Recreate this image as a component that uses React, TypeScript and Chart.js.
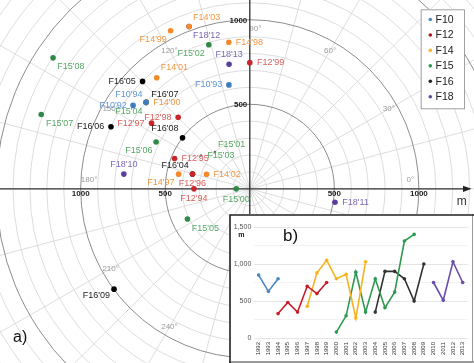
import React, { useEffect, useRef } from "react";
import Chart from "chart.js/auto";

// ---------- DATA ----------
const YEARS = [
  "1992", "1993", "1994", "1995", "1996", "1997", "1998", "1999", "2000", "2001", "2002",
  "2003", "2004", "2005", "2006", "2007", "2008", "2009", "2010", "2011", "2012", "2013",
];

const GLACIERS = ["F10", "F12", "F14", "F15", "F16", "F18"];

const F10_YEARS = [1992, 1993, 1994];
const F10_DISTANCE = [850, 630, 800];
const F10_AZIMUTH = [144.3, 101.3, 140];

const F12_YEARS = [1994, 1995, 1996, 1997, 1998, 1999];
const F12_DISTANCE = [330, 480, 350, 700, 600, 750];
const F12_AZIMUTH = [180, 157.9, 165.5, 146.1, 134.9, 90];

const F14_YEARS = [1997, 1998, 1999, 2000, 2001, 2002, 2003];
const F14_DISTANCE = [430, 880, 1050, 800, 860, 270, 1030];
const F14_AZIMUTH = [168.3, 98.1, 116.5, 140, 129.8, 161.3, 110.4];

const F15_YEARS = [2000, 2001, 2002, 2003, 2004, 2005, 2006, 2007, 2008];
const F15_DISTANCE = [80, 300, 890, 350, 800, 410, 620, 1310, 1400];
const F15_AZIMUTH = [180, 133.3, 105.8, 145.6, 140, 206, 153.3, 160.3, 146.2];

const F16_YEARS = [2004, 2005, 2006, 2007, 2008, 2009];
const F16_DISTANCE = [350, 900, 900, 800, 500, 1000];
const F16_AZIMUTH = [165.5, 134.8, 155.8, 140, 142.7, 216.6];

const F18_YEARS = [2010, 2011, 2012, 2013];
const F18_DISTANCE = [750, 510, 1030, 750];
const F18_AZIMUTH = [173.3, 351, 110.4, 99.4];

const RING_STEP = 100;
const RING_MAX = 2000;
const MAJOR_RING_STEP = 500;
const SPOKE_STEP = 15;
const ANGLE_LABELS = [0, 30, 60, 90, 120, 150, 180, 210, 240, 270, 300, 330];
const ANGLE_LABEL_RADIUS = 950;
const X_AXIS_TICKS = [-1000, -500, 500, 1000];
const Y_AXIS_TICKS = [500, 1000];

// ---------- STYLES ----------
const DOT_COLORS: Record<string, string> = {
  F10: "#3d7cc0", F12: "#c9262c", F14: "#f58a2c", F15: "#2f8a47", F16: "#000000", F18: "#5b3f9e",
};
const LABEL_COLORS: Record<string, string> = {
  F10: "#5f95d3", F12: "#d9605f", F14: "#f29540", F15: "#56a866", F16: "#222222", F18: "#7b68b9",
};
const LEGEND_COLORS: Record<string, string> = {
  F10: "#4a8bc6", F12: "#a8191f", F14: "#f7b731", F15: "#2b9a4d", F16: "#222222", F18: "#5c4a9c",
};
const LINE_COLORS: Record<string, string> = {
  F10: "#4a86c2", F12: "#c8202a", F14: "#f6b41e", F15: "#2e9a50", F16: "#333333", F18: "#6a4cae",
};
const SMALL_POINTS = ["F15'01", "F15'03"];
// label placement: [align, dx, dy]
const LABEL_PLACE: Record<string, [string, number, number]> = {
  "F15'08": ["l", 4.3, 8.3], "F15'07": ["l", 4.7, 8.7], "F16'06": ["r", -6.7, 0],
  "F18'10": ["c", 0, -10], "F16'09": ["r", -4, 6], "F16'05": ["r", -6.7, 0],
  "F10'94": ["r", -3.6, -8.3], "F10'92": ["r", -6.3, 0], "F16'07": ["l", 5, -8.3],
  "F14'00": ["l", 7, 0.4], "F15'04": ["r", -3.6, 9.4], "F14'01": ["l", 4, -9.7],
  "F12'97": ["r", -7, 0], "F12'98": ["r", -6.7, 0], "F16'08": ["r", -4, -9],
  "F15'06": ["r", -3.7, 8.7], "F12'95": ["l", 7, 0], "F16'04": ["r", -3.7, -9],
  "F14'97": ["r", -4, 8.7], "F12'96": ["c", 0, 9.5], "F12'94": ["c", 0, 9.7],
  "F14'02": ["l", 7, 0], "F15'00": ["c", 0, 10.3], "F15'05": ["l", 4.3, 9],
  "F15'01": ["l", 3, -8], "F15'03": ["l", 6.4, 0], "F14'99": ["r", -3.7, 8.7],
  "F14'03": ["l", 4, -9], "F18'12": ["l", 4, 9], "F15'02": ["r", -4, 9],
  "F14'98": ["l", 7, 0], "F18'13": ["c", 0, -10], "F12'99": ["l", 7.3, 0],
  "F10'93": ["r", -6.7, 0], "F18'11": ["l", 7.3, 0],
};
const FONT = "'Liberation Sans', Arial, sans-serif";
const W = 474;
const H = 363;
// view window in metres (keeps 1 m = 0.172 px on both axes)
const X_MIN = -1453.5, X_MAX = 1302.3, Y_MIN = -1011.6, Y_MAX = 1098.8;

const SERIES: Record<string, { years: number[]; dist: number[]; az: number[] }> = {
  F10: { years: F10_YEARS, dist: F10_DISTANCE, az: F10_AZIMUTH },
  F12: { years: F12_YEARS, dist: F12_DISTANCE, az: F12_AZIMUTH },
  F14: { years: F14_YEARS, dist: F14_DISTANCE, az: F14_AZIMUTH },
  F15: { years: F15_YEARS, dist: F15_DISTANCE, az: F15_AZIMUTH },
  F16: { years: F16_YEARS, dist: F16_DISTANCE, az: F16_AZIMUTH },
  F18: { years: F18_YEARS, dist: F18_DISTANCE, az: F18_AZIMUTH },
};

const rad = (d: number) => (d * Math.PI) / 180;

const polarPlugin = {
  id: "polarDecor",
  beforeDatasetsDraw(chart: any) {
    const { ctx } = chart;
    const xs = chart.scales.x, ys = chart.scales.y;
    const P = (m: number, deg: number) => [
      xs.getPixelForValue(m * Math.cos(rad(deg))),
      ys.getPixelForValue(m * Math.sin(rad(deg))),
    ];
    const cx = xs.getPixelForValue(0), cy = ys.getPixelForValue(0);
    const k = (xs.getPixelForValue(1000) - cx) / 1000;
    ctx.save();
    // minor rings
    ctx.strokeStyle = "#d4d4d4";
    ctx.lineWidth = 0.8;
    for (let r = RING_STEP; r <= RING_MAX; r += RING_STEP) {
      if (r % MAJOR_RING_STEP === 0) continue;
      ctx.beginPath();
      ctx.arc(cx, cy, r * k, 0, Math.PI * 2);
      ctx.stroke();
    }
    // spokes
    for (let a = 0; a < 360; a += SPOKE_STEP) {
      const [px, py] = P(RING_MAX, a);
      ctx.beginPath();
      ctx.moveTo(cx, cy);
      ctx.lineTo(px, py);
      ctx.stroke();
    }
    // major rings
    ctx.strokeStyle = "#8c8c8c";
    ctx.lineWidth = 1;
    for (let r = MAJOR_RING_STEP; r <= RING_MAX; r += MAJOR_RING_STEP) {
      ctx.beginPath();
      ctx.arc(cx, cy, r * k, 0, Math.PI * 2);
      ctx.stroke();
    }
    // angle labels
    ctx.fillStyle = "#9a9a9a";
    ctx.font = `8px ${FONT}`;
    ctx.textAlign = "center";
    ctx.textBaseline = "middle";
    for (const a of ANGLE_LABELS) {
      let [px, py] = P(ANGLE_LABEL_RADIUS, a);
      if (a % 180 === 0) py -= 9;
      if (a % 180 === 90) px += 5.5;
      ctx.fillText(`${a}°`, px, py);
    }
    // axes
    ctx.strokeStyle = "#333";
    ctx.lineWidth = 1.3;
    ctx.beginPath();
    ctx.moveTo(0, cy);
    ctx.lineTo(W - 8, cy);
    ctx.stroke();
    ctx.beginPath();
    ctx.moveTo(cx, 0);
    ctx.lineTo(cx, H);
    ctx.stroke();
    ctx.fillStyle = "#222";
    ctx.beginPath();
    ctx.moveTo(W - 2.5, cy);
    ctx.lineTo(W - 11, cy - 3.2);
    ctx.lineTo(W - 11, cy + 3.2);
    ctx.closePath();
    ctx.fill();
    // axis tick labels
    ctx.fillStyle = "#222";
    ctx.font = `bold 8px ${FONT}`;
    ctx.textAlign = "center";
    for (const v of X_AXIS_TICKS) {
      ctx.fillText(String(Math.abs(v)), xs.getPixelForValue(v), cy + 4.5);
    }
    ctx.textAlign = "right";
    for (const v of Y_AXIS_TICKS) {
      ctx.fillText(String(v), cx - 2.5, ys.getPixelForValue(v));
    }
    ctx.font = `12px ${FONT}`;
    ctx.fillStyle = "#333";
    ctx.textAlign = "center";
    ctx.fillText("m", 461.7, 201.7);
    ctx.font = `16px ${FONT}`;
    ctx.fillStyle = "#111";
    ctx.textAlign = "left";
    ctx.fillText("a)", 13, 338);
    ctx.restore();
  },
  afterDatasetsDraw(chart: any) {
    const { ctx } = chart;
    ctx.save();
    ctx.font = `9px ${FONT}`;
    ctx.textBaseline = "middle";
    chart.data.datasets.forEach((ds: any, i: number) => {
      const meta = chart.getDatasetMeta(i);
      meta.data.forEach((el: any, j: number) => {
        const name = ds.data[j].name;
        const place = LABEL_PLACE[name] || ["l", 5, 0];
        ctx.fillStyle = LABEL_COLORS[ds.label];
        ctx.textAlign = place[0] === "l" ? "left" : place[0] === "r" ? "right" : "center";
        ctx.fillText(name, el.x + place[1], el.y + place[2]);
      });
    });
    // legend
    const lx = 420.7, ly = 9.3, lw = 43.3, lh = 99;
    ctx.fillStyle = "#fff";
    ctx.fillRect(lx, ly, lw, lh);
    ctx.strokeStyle = "#a0a0a0";
    ctx.lineWidth = 1;
    ctx.strokeRect(lx + 0.5, ly + 0.5, lw, lh);
    ctx.font = `10.5px ${FONT}`;
    ctx.textAlign = "left";
    GLACIERS.forEach((g, i) => {
      const y = 19.5 + i * 15.45;
      ctx.fillStyle = LEGEND_COLORS[g];
      ctx.beginPath();
      ctx.arc(430.3, y, 1.8, 0, Math.PI * 2);
      ctx.fill();
      ctx.fillStyle = "#222";
      ctx.fillText(g, 435.5, y + 0.5);
    });
    ctx.restore();
  },
};

const insetPlugin = {
  id: "insetDecor",
  beforeDraw(chart: any) {
    const { ctx } = chart;
    ctx.save();
    ctx.fillStyle = "#fff";
    ctx.fillRect(0, 0, chart.width, chart.height);
    ctx.restore();
  },
  afterDraw(chart: any) {
    const { ctx } = chart;
    ctx.save();
    ctx.fillStyle = "#111";
    ctx.font = `bold 7px ${FONT}`;
    ctx.textAlign = "center";
    ctx.textBaseline = "middle";
    ctx.fillText("m", 12.3, 21.3);
    ctx.font = `17px ${FONT}`;
    ctx.textAlign = "left";
    ctx.fillText("b)", 54, 22);
    // frame
    ctx.strokeStyle = "#999";
    ctx.lineWidth = 2;
    ctx.beginPath();
    ctx.moveTo(0, chart.height - 1);
    ctx.lineTo(chart.width, chart.height - 1);
    ctx.stroke();
    ctx.lineWidth = 1;
    ctx.beginPath();
    ctx.moveTo(chart.width - 1.5, 0);
    ctx.lineTo(chart.width - 1.5, chart.height);
    ctx.stroke();
    ctx.strokeStyle = "#222";
    ctx.lineWidth = 1.6;
    ctx.beginPath();
    ctx.moveTo(1, chart.height);
    ctx.lineTo(1, 1);
    ctx.lineTo(chart.width, 1);
    ctx.stroke();
    ctx.restore();
  },
};

export default function App() {
  const mainRef = useRef<HTMLCanvasElement | null>(null);
  const insetRef = useRef<HTMLCanvasElement | null>(null);

  useEffect(() => {
    const scatterSets = GLACIERS.map((g) => {
      const s = SERIES[g];
      const data = s.years.map((yr, i) => ({
        x: s.dist[i] * Math.cos(rad(s.az[i])),
        y: s.dist[i] * Math.sin(rad(s.az[i])),
        name: `${g}'${String(yr).slice(2)}`,
      }));
      return {
        label: g,
        data,
        pointRadius: data.map((d) => (SMALL_POINTS.includes(d.name) ? 1.3 : 2.8)),
        pointBackgroundColor: data.map((d) => (SMALL_POINTS.includes(d.name) ? "#666" : DOT_COLORS[g])),
        pointBorderWidth: 0,
        clip: false as any,
      };
    });

    const main = new Chart(mainRef.current!, {
      type: "scatter",
      data: { datasets: scatterSets as any },
      options: {
        animation: false,
        responsive: false,
        devicePixelRatio: 1,
        layout: { padding: 0 },
        plugins: { legend: { display: false }, tooltip: { enabled: false } },
        scales: {
          x: { type: "linear", display: false, min: X_MIN, max: X_MAX },
          y: { type: "linear", display: false, min: Y_MIN, max: Y_MAX },
        },
      },
      plugins: [polarPlugin as any],
    });

    const lineSets = GLACIERS.map((g) => {
      const s = SERIES[g];
      const data = YEARS.map((yr) => {
        const idx = s.years.indexOf(Number(yr));
        return idx >= 0 ? s.dist[idx] : null;
      });
      return {
        label: g,
        data,
        borderColor: LINE_COLORS[g],
        backgroundColor: LINE_COLORS[g],
        borderWidth: 1.6,
        pointRadius: 1.8,
        pointBorderWidth: 0,
        spanGaps: false,
        tension: 0,
      };
    });

    const inset = new Chart(insetRef.current!, {
      type: "line",
      data: { labels: YEARS, datasets: lineSets as any },
      options: {
        animation: false,
        responsive: false,
        devicePixelRatio: 1,
        layout: { padding: { top: 13, right: 4.4, left: 0, bottom: 0 } },
        plugins: { legend: { display: false }, tooltip: { enabled: false } },
        scales: {
          x: {
            offset: true,
            grid: { display: false, drawTicks: false },
            border: { display: false },
            ticks: {
              minRotation: 90,
              maxRotation: 90,
              autoSkip: false,
              padding: 4,
              color: "#333",
              font: { size: 6, family: FONT },
            },
            afterFit: (s: any) => {
              s.height = 25;
            },
          },
          y: {
            min: 0,
            max: 1500,
            grid: {
              drawTicks: false,
              color: (c: any) => (c.tick && c.tick.value % 500 === 0 ? "#dedede" : "#efefef"),
              lineWidth: 0.8,
            },
            border: { display: false },
            ticks: {
              stepSize: 250,
              padding: 2.5,
              color: "#555",
              font: { size: 7, family: FONT },
              callback: (v: any) => (Number(v) % 500 === 0 ? Number(v).toLocaleString("en-US") : ""),
            },
            afterFit: (s: any) => {
              s.width = 24.8;
            },
          },
        },
      },
      plugins: [insetPlugin as any],
    });

    return () => {
      main.destroy();
      inset.destroy();
    };
  }, []);

  return (
    <div style={{ position: "fixed", left: 0, top: 0, width: W, height: H, background: "#fff", overflow: "hidden" }}>
      <canvas ref={mainRef} width={W} height={H} style={{ position: "absolute", left: 0, top: 0, width: W, height: H }} />
      <canvas
        ref={insetRef}
        width={245}
        height={149}
        style={{ position: "absolute", left: 229, top: 214, width: 245, height: 149 }}
      />
    </div>
  );
}
